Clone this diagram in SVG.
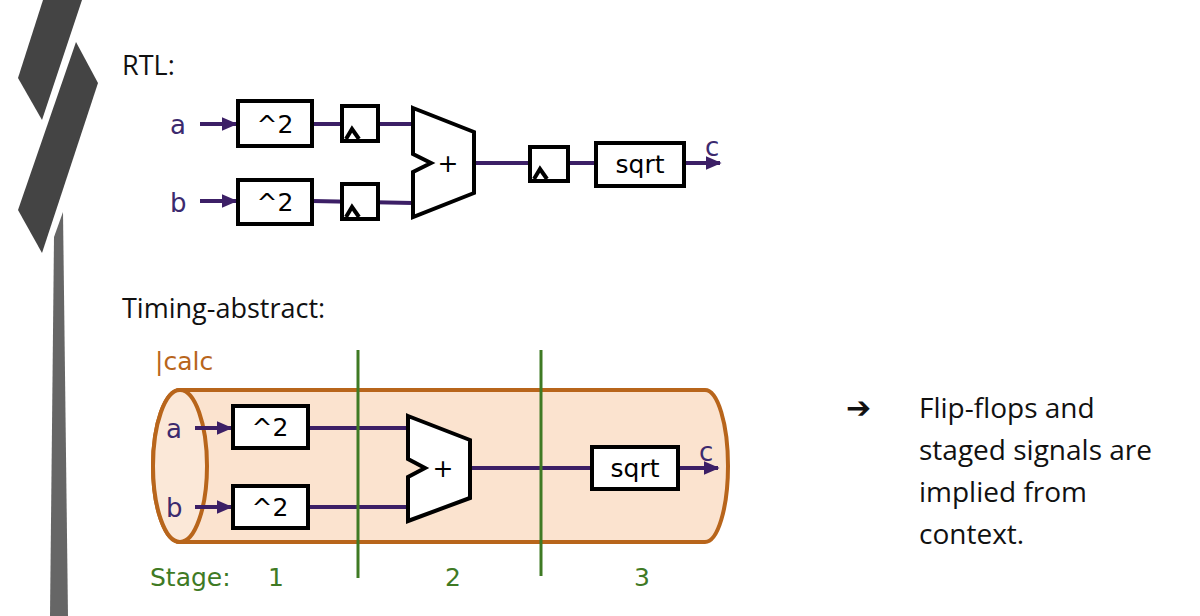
<svg xmlns="http://www.w3.org/2000/svg" width="1200" height="616" viewBox="0 0 1200 616">
<defs>
<marker id="ar" viewBox="0 0 10 10" refX="9" refY="5" markerWidth="16" markerHeight="14" orient="auto" markerUnits="userSpaceOnUse" preserveAspectRatio="none"><path d="M0,0 L10,5 L0,10 z" fill="#3c1f66"/></marker>
<style>
.t{font-family:"Open Sans","DejaVu Sans",sans-serif;fill:#111}
.lbl{font-family:"DejaVu Sans",sans-serif;font-size:26px;fill:#3c2a6e}
.box{fill:#fff;stroke:#000;stroke-width:4}
.bt{font-family:"DejaVu Sans",sans-serif;font-size:25px;fill:#000;text-anchor:middle}
.w{stroke:#3c1f66;stroke-width:4;fill:none}
.g{font-family:"DejaVu Sans",sans-serif;font-size:25px;fill:#3f7a24}
</style>
</defs>
<g id="deco">
<polygon points="43,0 82,0 42,120 18,78" fill="#444"/>
<polygon points="76,42 98,83 42,253 18,210" fill="#444"/>
<polygon points="63,212 68,616 50,616 54,237" fill="#666"/>
</g>
<text class="t" x="122" y="75" font-size="27">RTL:</text>
<text class="t" x="122" y="318" font-size="27">Timing-abstract:</text>
<g id="cyl">
<path d="M180,390 L705,390 A23,76 0 0 1 705,542 L180,542 A27,76 0 0 1 180,390 Z" fill="#fbe3cf" stroke="#b8651b" stroke-width="4"/>
<ellipse cx="180" cy="466" rx="27" ry="76" fill="#fbe8d8" stroke="#b8651b" stroke-width="4"/>
<text x="155" y="370" font-family="DejaVu Sans,sans-serif" font-size="25" fill="#b8651b">|calc</text>
</g>
<g id="connectors">
<line class="w" x1="200" y1="124" x2="236" y2="124" marker-end="url(#ar)"/>
<line class="w" x1="200" y1="201" x2="236" y2="201" marker-end="url(#ar)"/>
<line class="w" x1="312" y1="124" x2="413" y2="124"/>
<line class="w" x1="312" y1="201" x2="413" y2="203"/>
<line class="w" x1="474" y1="163" x2="596" y2="163"/>
<line class="w" x1="684" y1="163" x2="720" y2="163" marker-end="url(#ar)"/>
<line class="w" x1="195" y1="428" x2="231" y2="428" marker-end="url(#ar)"/>
<line class="w" x1="195" y1="507" x2="231" y2="507" marker-end="url(#ar)"/>
<line class="w" x1="308" y1="428" x2="408" y2="428"/>
<line class="w" x1="308" y1="507" x2="408" y2="507"/>
<line class="w" x1="470" y1="468" x2="592" y2="468"/>
<line class="w" x1="678" y1="468" x2="718" y2="468" marker-end="url(#ar)"/>
</g>
<g id="rtl">
<text class="lbl" x="170" y="134">a</text>
<text class="lbl" x="170" y="212">b</text>
<g id="sqa"><rect class="box" x="238" y="101" width="74" height="45"/><text class="bt" x="275" y="133">^2</text></g>
<g id="sqb"><rect class="box" x="238" y="180" width="74" height="44"/><text class="bt" x="275" y="211">^2</text></g>
<g id="ffa"><rect class="box" x="342" y="106" width="36" height="35"/><path d="M346,139 L352,129 L359,139" class="box" fill="none"/></g>
<g id="ffb"><rect class="box" x="342" y="184" width="36" height="35"/><path d="M346,217 L352,207 L359,217" class="box" fill="none"/></g>
<g id="add1"><path class="box" d="M413,108 L474,132 L474,193 L413,217 L413,172 L431,163 L413,154 Z"/><text class="bt" x="448" y="172">+</text></g>
<g id="ffc"><rect class="box" x="530" y="147" width="38" height="34"/><path d="M534,179 L540,169 L547,179" class="box" fill="none"/></g>
<g id="sqrt1"><rect class="box" x="596" y="143" width="88" height="43"/><text class="bt" x="640" y="173">sqrt</text></g>
<text class="lbl" x="705" y="156">c</text>
</g>
<g id="ta">
<text class="lbl" x="166" y="438">a</text>
<text class="lbl" x="166" y="517">b</text>
<g id="sqa2"><rect class="box" x="233" y="406" width="75" height="42"/><text class="bt" x="270" y="436">^2</text></g>
<g id="sqb2"><rect class="box" x="233" y="486" width="75" height="42"/><text class="bt" x="270" y="516">^2</text></g>
<g id="add2"><path class="box" d="M408,416 L470,440 L470,498 L408,521 L408,477 L425,468 L408,459 Z"/><text class="bt" x="443" y="477">+</text></g>
<g id="sqrt2"><rect class="box" x="592" y="447" width="86" height="42"/><text class="bt" x="635" y="477">sqrt</text></g>
<text class="lbl" x="699" y="461">c</text>
</g>
<g id="stages">
<line x1="358" y1="350" x2="358" y2="578" stroke="#3f7a24" stroke-width="3"/>
<line x1="541" y1="350" x2="541" y2="576" stroke="#3f7a24" stroke-width="3"/>
<text class="g" x="150" y="586">Stage:</text>
<text class="g" x="268" y="586">1</text>
<text class="g" x="445" y="586">2</text>
<text class="g" x="634" y="586">3</text>
</g>
<g id="note" class="t" font-size="28">
<text x="846" y="418" font-family="DejaVu Sans,sans-serif" font-size="30">➔</text>
<text x="919" y="418">Flip-flops and</text>
<text x="919" y="460">staged signals are</text>
<text x="919" y="502">implied from</text>
<text x="919" y="544">context.</text>
</g>
</svg>
